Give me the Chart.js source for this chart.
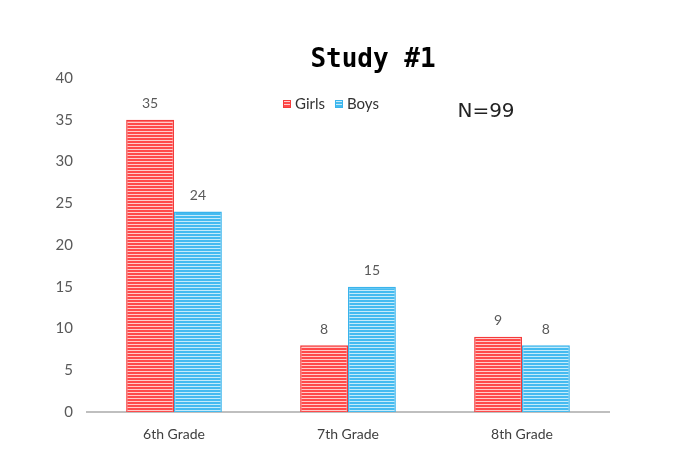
<!DOCTYPE html>
<html>
<head>
<meta charset="utf-8">
<script src="https://cdn.jsdelivr.net/npm/chart.js@4.4.0/dist/chart.umd.min.js"></script>
<style>
  body { margin: 0; background: #fff; }
  #wrap { width: 678px; height: 452px; }
</style>
</head>
<body>
<div id="wrap"><canvas id="chart"></canvas></div>
<script>
// Data
const grades = ['6th Grade', '7th Grade', '8th Grade'];
const girls = [35, 8, 9];
const boys = [24, 15, 8];
const yTicks = [0, 5, 10, 15, 20, 25, 30, 35, 40];
const chartTitle = 'Study #1';
const sampleNote = 'N=99';

// striped fill like the original
function stripes(dark, light) {
    const c = document.createElement('canvas');
    c.width = 4; c.height = 3;
    const g = c.getContext('2d');
    g.fillStyle = light;
    g.fillRect(0, 0, 4, 3);
    g.fillStyle = dark;
    g.fillRect(0, 0, 4, 2);
    return g.createPattern(c, 'repeat');
}

const ctx = document.getElementById('chart').getContext('2d');
const redFill = stripes('#ff4a4a', '#ffcccc');
const blueFill = stripes('#45bbf0', '#c6ebfa');

const overlay = {
    id: 'overlay',
    afterDatasetsDraw(chart) {
        const c = chart.ctx;
        c.save();
        // value labels
        c.font = '14px Lato';
        c.fillStyle = '#595959';
        c.textAlign = 'center';
        c.textBaseline = 'middle';
        chart.data.datasets.forEach((ds, i) => {
            chart.getDatasetMeta(i).data.forEach((bar, j) => {
                c.fillText(String(ds.data[j]), bar.x, bar.y - 16);
            });
        });
        // title
        c.font = 'bold 26px "DejaVu Sans Mono"';
        c.fillStyle = '#000';
        c.fillText(chartTitle, 373, 60);
        // N note
        c.font = '20px "DejaVu Sans"';
        c.fillStyle = '#222';
        c.fillText(sampleNote, 486, 112);
        // legend
        c.font = '15px Lato';
        c.textAlign = 'left';
        let x = 283;
        chart.data.datasets.forEach(ds => {
            c.fillStyle = ds.backgroundColor;
            c.fillRect(x, 100, 8, 8);
            c.strokeStyle = ds.borderColor;
            c.lineWidth = 1;
            c.strokeRect(x + 0.5, 100.5, 7, 7);
            c.fillStyle = '#333';
            c.fillText(ds.label, x + 12, 104);
            x += 12 + c.measureText(ds.label).width + 10;
        });
        c.restore();
    }
};

new Chart(ctx, {
    type: 'bar',
    data: {
        labels: grades,
        datasets: [
            { label: 'Girls', data: girls, backgroundColor: redFill, borderColor: '#f43c3c', borderWidth: 1.5 },
            { label: 'Boys', data: boys, backgroundColor: blueFill, borderColor: '#3ab4ec', borderWidth: 1.5 }
        ]
    },
    options: {
        responsive: true,
        maintainAspectRatio: false,
        animation: false,
        layout: { padding: { top: 78, right: 69, bottom: 0, left: 0 } },
        plugins: {
            legend: { display: false },
            title: { display: false },
            tooltip: { enabled: false }
        },
        datasets: { bar: { categoryPercentage: 0.55, barPercentage: 1 } },
        scales: {
            x: {
                afterFit(axis) { axis.height = 40; },
                grid: { display: false, drawTicks: false },
                border: { color: '#bfbfbf', width: 2 },
                ticks: { color: '#404040', font: { family: 'Lato', size: 14 }, padding: 14 }
            },
            y: {
                min: 0,
                max: 40,
                afterBuildTicks(axis) { axis.ticks = yTicks.map(v => ({ value: v })); },
                afterFit(axis) { axis.width = 87; },
                grid: { display: false, drawTicks: false },
                border: { display: false },
                ticks: { color: '#595959', font: { family: 'Lato', size: 15 }, padding: 14 }
            }
        }
    },
    plugins: [overlay]
});
</script>
</body>
</html>
